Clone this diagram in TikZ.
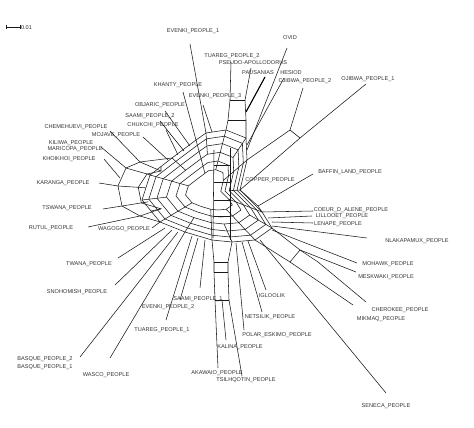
\documentclass[tikz,border=0pt]{standalone}
\usepackage{fontspec}
\setmainfont{Liberation Sans}
\usetikzlibrary{calc}
\begin{document}
\begin{tikzpicture}[x=1pt,y=-1pt,
  lab/.style={font=\fontsize{5.6}{5.6}\selectfont, text=black!80, inner sep=0.3pt},
  edge/.style={line width=0.55pt, black!90},
  thickedge/.style={line width=1pt, black}]
\useasboundingbox (0,0) rectangle (474,428);
\fill[white] (0,0) rectangle (474,428);
% scale bar
\coordinate (sb1) at (6,27);
\coordinate (sb2) at (20,27);
\draw[edge] (sb1) -- (sb2);
\draw[edge] ($(sb1)+(0,-2)$) -- ($(sb1)+(0,2)$);
\draw[edge] ($(sb2)+(0,-2)$) -- ($(sb2)+(0,2)$);
\node[lab,anchor=west] (sbl) at (20.5,27.5) {0.01};
% core
\coordinate (c) at (210,192);
\coordinate (v1) at (196,140);
\coordinate (v2) at (206,133);
\coordinate (v3) at (226,130);
\coordinate (v4) at (246,138);
\coordinate (v5) at (247,160);
\coordinate (v6) at (240,190);
\coordinate (v7) at (262,212);
\coordinate (v8) at (272,228);
\coordinate (v9) at (255,240);
\coordinate (v10) at (232,242);
\coordinate (v11) at (212,240);
\coordinate (v12) at (185,232);
\coordinate (v13) at (160,222);
\coordinate (v14) at (142,200);
\coordinate (v15) at (150,175);
\coordinate (v16) at (172,158);
\foreach \s in {1,0.9,0.78,0.64,0.5,0.36}{
  \draw[edge] ($(c)!\s!(v1)$)
    \foreach \k in {2,...,16}{ -- ($(c)!\s!(v\k)$) } -- cycle;
}
\foreach \k in {1,3,...,15}{
  \draw[edge] ($(c)!1!(v\k)$) -- ($(c)!0.36!(v\k)$);
}
\foreach \k in {2,4,...,16}{
  \draw[edge] ($(c)!1!(v\k)$) -- ($(c)!0.64!(v\k)$);
}
% inner vertical tube
\coordinate (iv1) at (214,150);
\coordinate (iv2) at (213,238);
\coordinate (iv3) at (230,148);
\coordinate (iv4) at (230,240);
\draw[edge] (iv1) -- (iv2);
\draw[edge] (iv3) -- (iv4);
\foreach \yy in {165,182,200,216}{ \draw[edge] (214,\yy) -- (230,\yy); }
% top tube
\coordinate (tt1) at (230,100);
\coordinate (tt2) at (245,100);
\coordinate (tt3) at (228,120);
\coordinate (tt4) at (246,120);
\draw[edge] (v3) -- (tt3) -- (tt1);
\draw[edge] (v4) -- (tt4) -- (tt2);
\draw[edge] (tt1) -- (tt2);
\draw[edge] (tt3) -- (tt4);
% bottom tube
\coordinate (bt1) at (215,300);
\coordinate (bt2) at (229,300);
\coordinate (bt3) at (214,262);
\coordinate (bt4) at (228,262);
\coordinate (bt5) at (214,272);
\coordinate (bt6) at (228,272);
\draw[edge] (v11) -- (bt3) -- (bt5) -- (bt1);
\draw[edge] (v10) -- (bt4) -- (bt6) -- (bt2);
\draw[edge] (bt3) -- (bt4);
\draw[edge] (bt5) -- (bt6);
\draw[edge] (bt1) -- (bt2);
% left wing
\coordinate (w0) at (140,162);
\coordinate (w1) at (126,168);
\coordinate (w2) at (118,186);
\coordinate (w3) at (122,206);
\coordinate (w4) at (140,216);
\draw[edge] (v16) -- (w0) -- (w1) -- (w2) -- (w3) -- (w4) -- (v13);
\draw[edge] ($(v16)!0.5!(v15)$) -- ($(w0)!0.3!(c)$) -- ($(w1)!0.25!(c)$) -- ($(w2)!0.22!(c)$) -- ($(w3)!0.22!(c)$) -- ($(w4)!0.3!(c)$) -- ($(v13)!0.5!(v14)$);
\foreach \w in {w0,w1,w2,w3,w4}{ \draw[edge] (\w) -- ($(\w)!0.3!(c)$); }
% right fan structure
\coordinate (r1) at (300,250);
\coordinate (r2) at (318,262);
\coordinate (r3) at (290,262);
\coordinate (r4) at (258,206);
\draw[edge] (v8) -- (r1) -- (r2);
\draw[edge] (v9) -- (r3) -- (r1);
\draw[edge] (v6) -- (r4) -- (v7);
% upper right band
\coordinate (u1) at (290,130);
\coordinate (u2) at (300,138);
\draw[edge] (v5) -- (u1);
\draw[edge] (v6) -- (u2);
\draw[edge] (u1) -- (u2);
% leaves
\foreach \n/\ax/\ay/\tx/\ty/\lx/\ly/\txt in {
 evkA/206/133/190/44/193/31/EVENKI\_PEOPLE\_1,
 ovid/247/150/287/48/290/38/OVID,
 tuaB/230/100/231/62/232/56/TUAREG\_PEOPLE\_2,
 pseu/245/100/251/68/253/63/PSEUDO-APOLLODORUS,
 paus/246/112/265/77/258/73/PAUSANIAS,
 hesi/247/145/284/78/291/73/HESIOD,
 ojiB/290/130/303/88/305/81/CJIBWA\_PEOPLE\_2,
 ojiA/300/138/366/84/368/79/OJIBWA\_PEOPLE\_1,
 khan/196/140/183/92/178/85/KHANTY\_PEOPLE,
 evkC/212/132/203/105/215/96/EVENKI\_PEOPLE\_3,
 objr/190/146/165/111/160/105/OBJARIC\_PEOPLE,
 saaB/184/151/160/121/150/116/SAAMI\_PEOPLE\_2,
 chuk/178/155/166/130/153/125/CHUKCHI\_PEOPLE,
 chem/140/162/110/131/76/127/CHEMEHUEVI\_PEOPLE,
 moja/168/160/143/137/116/135/MOJAVE\_PEOPLE,
 kili/126/168/101/147/71/143/KILIWA\_PEOPLE,
 khoi/120/178/104/159/69/159/KHOIKHOI\_PEOPLE,
 kara/118/186/99/183/63/183/KARANGA\_PEOPLE,
 tswa/122/206/103/209/67/208/TSWANA\_PEOPLE,
 rutu/140/216/88/227/51/228/RUTUL\_PEOPLE,
 wago/160/222/152/228/124/229/WAGOGO\_PEOPLE,
 twan/165/228/118/258/89/264/TWANA\_PEOPLE,
 snoh/172/230/115/285/77/292/SNOHOMISH\_PEOPLE,
 basq/178/232/80/357/45/359/BASQUE\_PEOPLE\_2,
 wasc/185/232/110/358/106/375/WASCO\_PEOPLE,
 tuaA/192/236/166/320/162/330/TUAREG\_PEOPLE\_1,
 evkB/198/238/180/300/168/307/EVENKI\_PEOPLE\_2,
 saaA/205/240/200/288/198/299/SAAMI\_PEOPLE\_1,
 akaw/215/300/218/368/217/373/AKAWAIO\_PEOPLE,
 kali/222/300/226/340/240/347/KALINA\_PEOPLE,
 tsil/229/300/242/376/246/380/TSILHQOTIN\_PEOPLE,
 pola/236/243/244/330/277/335/POLAR\_ESKIMO\_PEOPLE,
 nets/242/242/262/312/270/317/NETSILIK\_PEOPLE,
 iglo/248/241/266/290/272/296/IGLOOLIK,
 sene/260/240/386/393/386/406/SENECA\_PEOPLE,
 cher/318/262/366/302/400/310/CHEROKEE\_PEOPLE,
 mikm/290/262/353/305/381/319/MIKMAQ\_PEOPLE,
 mesk/300/250/356/272/386/277/MESKWAKI\_PEOPLE,
 moha/272/230/357/263/388/264/MOHAWK\_PEOPLE,
 nlak/272/226/367/238/417/241/NLAKAPAMUX\_PEOPLE,
 lena/272/222/313/223/338/224/LENAPE\_PEOPLE,
 lill/268/218/312/216/342/216/LILLOOET\_PEOPLE,
 coeu/262/212/313/211/351/210/COEUR\_D\_ALENE\_PEOPLE,
 baff/258/206/313/174/350/172/BAFFIN\_LAND\_PEOPLE}{
  \coordinate (a-\n) at (\ax,\ay);
  \coordinate (t-\n) at (\tx,\ty);
  \draw[edge] (a-\n) -- (t-\n);
  \node[lab] (l-\n) at (\lx,\ly) {\txt};
}
\node[lab] (l-mari) at (75,149) {MARICOPA\_PEOPLE};
\node[lab] (l-basqA) at (45,367) {BASQUE\_PEOPLE\_1};
\node[lab] (l-copp) at (270,180) {COPPER\_PEOPLE};
\draw[thickedge] (a-paus) -- (t-paus);
\end{tikzpicture}
\end{document}
